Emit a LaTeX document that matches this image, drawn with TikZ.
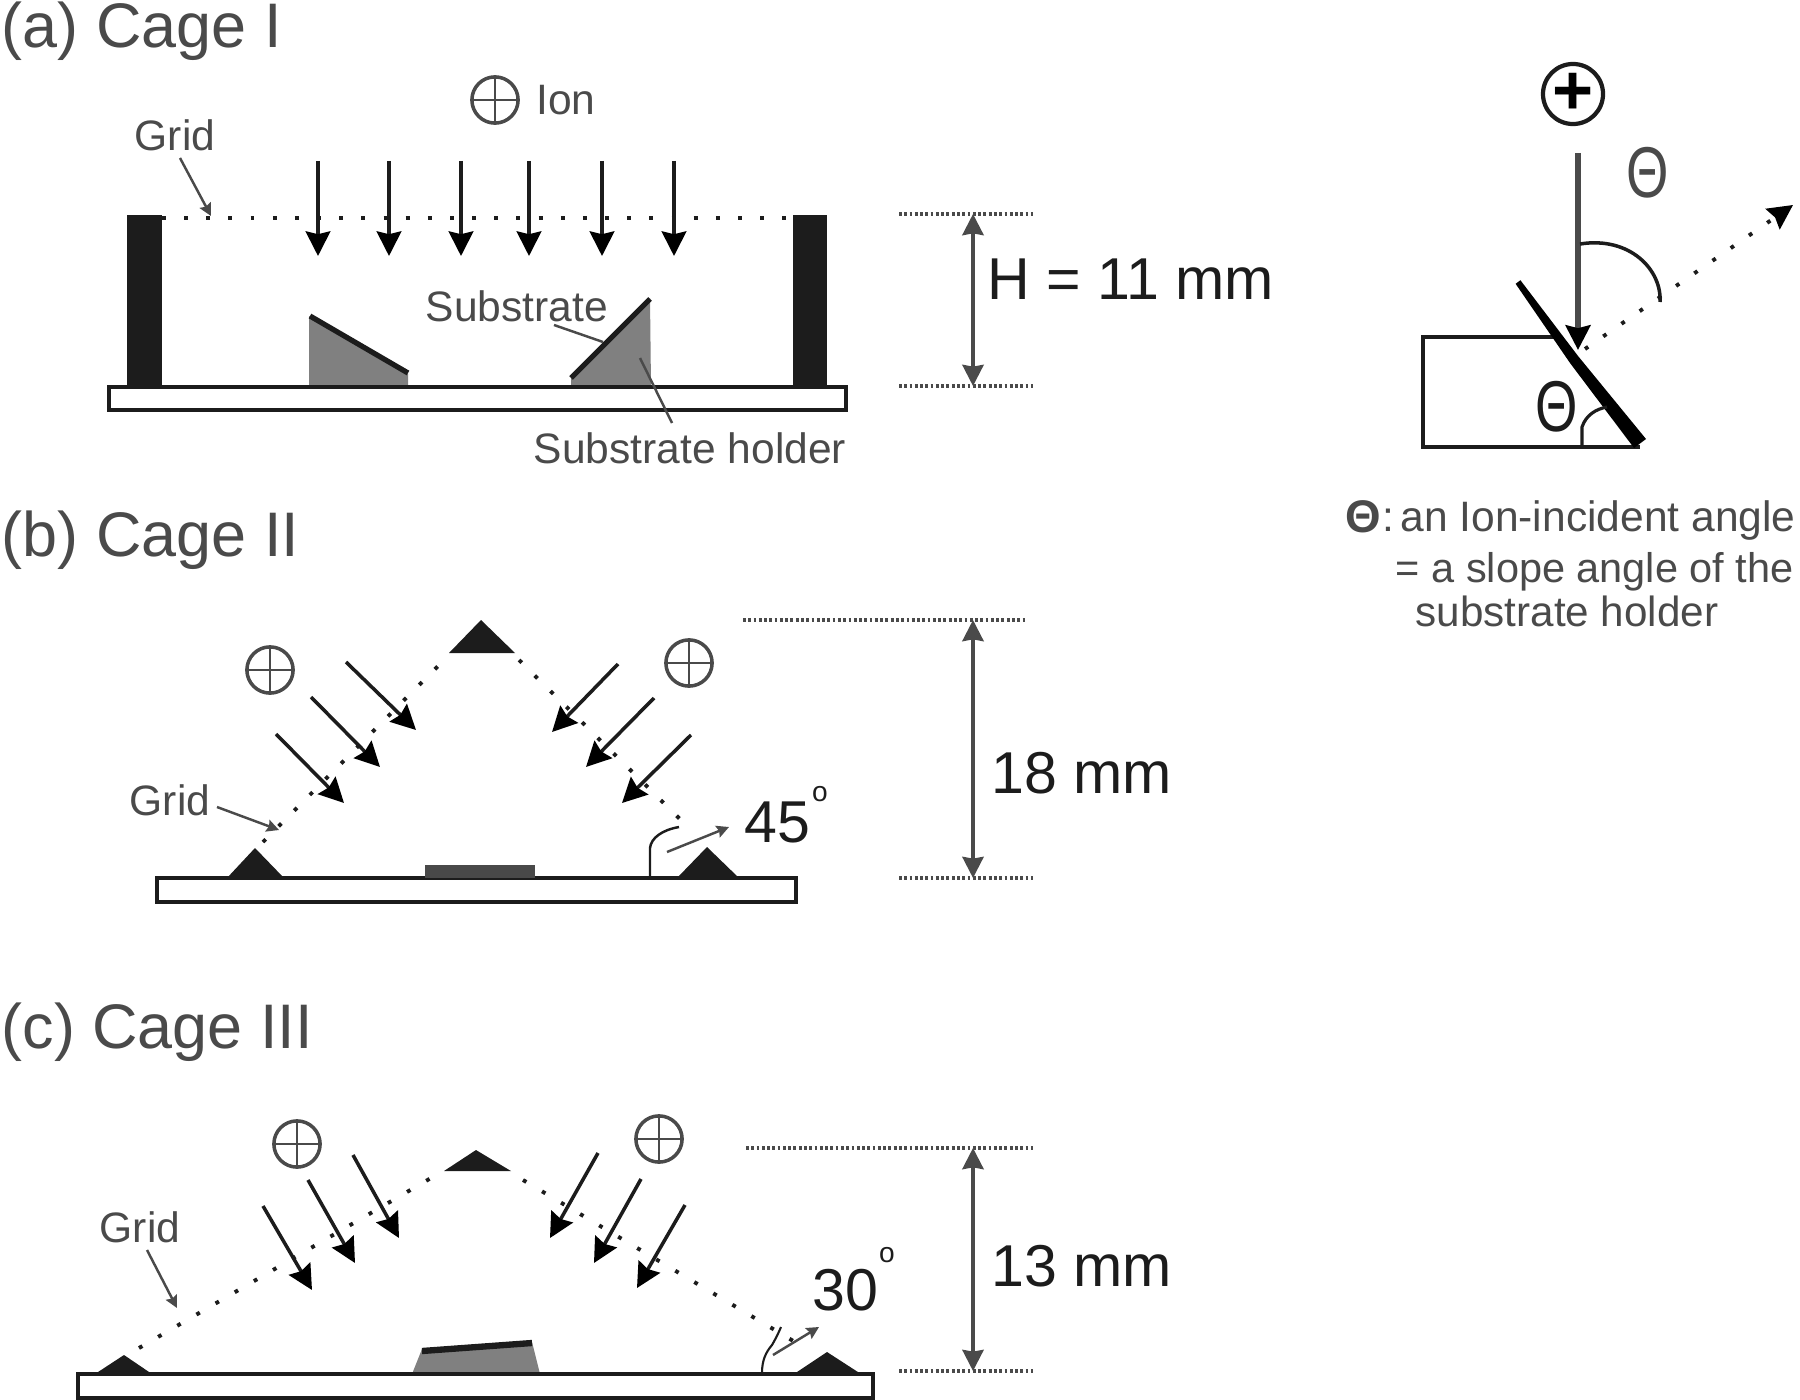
\documentclass[tikz,border=0pt]{standalone}
\usepackage{xcolor}
\usepackage{fontspec}
\setmainfont{Liberation Sans}
\usetikzlibrary{arrows.meta}
\definecolor{inkdark}{HTML}{1c1c1c}
\definecolor{inkgrey}{HTML}{4a4a4a}
\definecolor{holdergrey}{HTML}{808080}
\tikzset{
	titletext/.style={anchor=base west,inner sep=0,text=inkgrey,font=\fontsize{17.9}{20}\selectfont},
	sizetext/.style={anchor=west,inner sep=0,text=inkdark,font=\fontsize{16.8}{20}\selectfont},
	smalltext/.style={inner sep=0,text=inkgrey,font=\fontsize{12.1}{14}\selectfont},
	legendtext/.style={anchor=west,inner sep=0,text=inkgrey,font=\fontsize{12}{14}\selectfont},
	degreetext/.style={inner sep=0,text=inkdark,font=\fontsize{8}{9}\selectfont},
	ionmark/.style={circle,draw=inkgrey,line width=1pt,inner sep=0,minimum size=1.32cm*0.35,
		path picture={
			\draw[inkgrey,line width=0.6pt] (path picture bounding box.north) -- (path picture bounding box.south);
			\draw[inkgrey,line width=0.6pt] (path picture bounding box.west) -- (path picture bounding box.east);
		}},
	plate/.style={draw=inkdark,fill=white,line width=1pt},
	dotline/.style={draw=inkdark,line width=1.1pt,dash pattern=on 1.1pt off 5.2pt},
	sizeline/.style={draw=inkgrey,line width=1.1pt,dash pattern=on 0.8pt off 0.7pt},
}

\begin{document}
\begin{tikzpicture}[x=0.01cm,y=-0.01cm]
	\useasboundingbox (0,0) rectangle (1800,1400);

	% panel titles and labels
	\begin{scope}
		\node[titletext] (titleA) at (1,48) {(a) Cage I};
		\node[titletext] (titleB) at (1,556) {(b) Cage II};
		\node[titletext] (titleC) at (1,1048) {(c) Cage III};

		\node[smalltext] (gridA) at (175,135) {Grid};
		\node[smalltext] (gridB) at (170,800) {Grid};
		\node[smalltext] (gridC) at (140,1227) {Grid};
		\node[smalltext] (ionText) at (566,100) {Ion};
		\node[smalltext] (subText) at (517,306) {Substrate};
		\node[smalltext] (holderText) at (690,448) {Substrate holder};

		\node[sizetext] (sizeA) at (987,279) {H = 11 mm};
		\node[sizetext] (sizeB) at (991,773) {18 mm};
		\node[sizetext] (sizeC) at (991,1266) {13 mm};

		\node[sizetext] (angB) at (744,822) {45};
		\node[degreetext] (degB) at (820,794) {o};
		\node[sizetext] (angC) at (812,1290) {30};
		\node[degreetext] (degC) at (887,1255) {o};

		\node[legendtext,font=\fontsize{13}{14}\bfseries\selectfont] (legTheta) at (1345,517) {Θ};
		\node[legendtext,font=\fontsize{12.1}{14}\selectfont] (legA) at (1382,520) {:\hspace{1.7pt}an Ion-incident angle};
		\node[legendtext,font=\fontsize{11.8}{14}\selectfont] (legB) at (1395,572) {= a slope angle of the};
		\node[legendtext] (legC) at (1415,611) {substrate holder};

		\node[inner sep=0,text=inkgrey,font=\fontsize{15.5}{18}\selectfont] (thetaUp) at (1648,173) {\scalebox{1}[1.32]{Θ}};
		\node[inner sep=0,text=inkdark,font=\fontsize{15.5}{18}\selectfont] (thetaIn) at (1557,407) {\scalebox{1}[1.32]{Θ}};
	\end{scope}

	% ion marks
	\begin{scope}
		\node[ionmark] (ionA) at (495,100) {};
		\node[ionmark] (ionBL) at (270,670) {};
		\node[ionmark] (ionBR) at (689,663) {};
		\node[ionmark] (ionCL) at (297,1144) {};
		\node[ionmark] (ionCR) at (659,1139) {};
		\node[circle,draw=inkdark,line width=1.2pt,inner sep=0,minimum size=0.6cm,
			font=\fontsize{20}{20}\bfseries\selectfont,text=black] (ionBig) at (1573,94) {+};
	\end{scope}

	% cage I
	\fill[inkdark] (127,215) rectangle (162,387);
	\fill[inkdark] (793,215) rectangle (827,387);
	\fill[holdergrey] (309,316) -- (309,387) -- (408,387) -- (408,374) -- cycle;
	\fill[holdergrey] (650,298) -- (571,378) -- (571,387) -- (651,387) -- cycle;
	\draw[plate] (109,387) rectangle (846,410);
	\draw[inkdark,line width=1.5pt] (310,316) -- (408,373);
	\draw[inkdark,line width=1.5pt] (650,299) -- (571,378);

	% cage II
	\fill[inkdark] (481,620) -- (449,653) -- (515,653) -- cycle;
	\fill[inkdark] (255,848) -- (227,878) -- (284,878) -- cycle;
	\fill[inkdark] (707,847) -- (677,878) -- (739,878) -- cycle;
	\draw[plate] (157,878) rectangle (796,902);
	\fill[inkdark!80] (425,865) rectangle (535,878);

	% cage III
	\fill[inkdark] (476,1150) -- (444,1171) -- (511,1171) -- cycle;
	\fill[inkdark] (124,1355) -- (95,1374) -- (152,1374) -- cycle;
	\fill[inkdark] (827,1352) -- (794,1374) -- (861,1374) -- cycle;
	\fill[holdergrey] (412,1374) -- (422,1349) -- (532,1342) -- (540,1374) -- cycle;
	\draw[plate] (78,1374) rectangle (873,1398);
	\draw[inkdark,line width=1.8pt] (422,1351) -- (532,1343);

	% incidence sketch
	\draw[inkdark,line width=1pt] (1558,337) -- (1423,337) -- (1423,447) -- (1640,447);
	\fill[black] (1520.4,280.2) -- (1578,356) -- (1646,439) -- (1634,448) -- (1570,363) -- (1515.6,283.8) -- cycle;

	% free ends of the connectors
	\begin{scope}
		\coordinate (gridAa) at (180,158);
		\coordinate (gridAb) at (211,216);
		\coordinate (gridBa) at (217,807);
		\coordinate (gridBb) at (279,830);
		\coordinate (gridCa) at (147,1250);
		\coordinate (gridCb) at (177,1308);
		\coordinate (subA) at (554,325);
		\coordinate (subB) at (603,342);
		\coordinate (holdA) at (640,358);
		\coordinate (holdB) at (672,423);

		\coordinate (dotAa) at (162,218);
		\coordinate (dotAb) at (793,218);
		\coordinate (dotBa) at (263,842);
		\coordinate (dotBb) at (442,662);
		\coordinate (dotBc) at (519,660);
		\coordinate (dotBd) at (686,825);
		\coordinate (dotCa) at (139,1348);
		\coordinate (dotCb) at (431,1178);
		\coordinate (dotCc) at (523,1180);
		\coordinate (dotCd) at (800,1345);

		\coordinate (sizeAa) at (899,214);
		\coordinate (sizeAb) at (1033,214);
		\coordinate (sizeAc) at (899,386);
		\coordinate (sizeAd) at (1033,386);
		\coordinate (sizeBa) at (743,620);
		\coordinate (sizeBb) at (1025,620);
		\coordinate (sizeBc) at (899,878);
		\coordinate (sizeBd) at (1033,878);
		\coordinate (sizeCa) at (746,1148);
		\coordinate (sizeCb) at (1033,1148);
		\coordinate (sizeCc) at (899,1371);
		\coordinate (sizeCd) at (1033,1371);
		\coordinate (spanAa) at (973,214);
		\coordinate (spanAb) at (973,386);
		\coordinate (spanBa) at (973,620);
		\coordinate (spanBb) at (973,878);
		\coordinate (spanCa) at (973,1148);
		\coordinate (spanCb) at (973,1371);

		\coordinate (inA1) at (318,161);
		\coordinate (outA1) at (318,256);
		\coordinate (inA2) at (389,161);
		\coordinate (outA2) at (389,256);
		\coordinate (inA3) at (461,161);
		\coordinate (outA3) at (461,256);
		\coordinate (inA4) at (529,161);
		\coordinate (outA4) at (529,256);
		\coordinate (inA5) at (602,161);
		\coordinate (outA5) at (602,256);
		\coordinate (inA6) at (674,161);
		\coordinate (outA6) at (674,256);

		\coordinate (inB1) at (346,662);
		\coordinate (outB1) at (416,730);
		\coordinate (inB2) at (311,697);
		\coordinate (outB2) at (380,767);
		\coordinate (inB3) at (276,734);
		\coordinate (outB3) at (344,803);
		\coordinate (inB4) at (618,664);
		\coordinate (outB4) at (552,732);
		\coordinate (inB5) at (654,698);
		\coordinate (outB5) at (586,767);
		\coordinate (inB6) at (691,735);
		\coordinate (outB6) at (622,803);

		\coordinate (inC1) at (353,1155);
		\coordinate (outC1) at (399,1238);
		\coordinate (inC2) at (308,1180);
		\coordinate (outC2) at (355,1263);
		\coordinate (inC3) at (263,1206);
		\coordinate (outC3) at (312,1290);
		\coordinate (inC4) at (598,1153);
		\coordinate (outC4) at (550,1238);
		\coordinate (inC5) at (641,1179);
		\coordinate (outC5) at (594,1263);
		\coordinate (inC6) at (685,1205);
		\coordinate (outC6) at (637,1288);

		\coordinate (angBa) at (667,852);
		\coordinate (angBb) at (729,827);
		\coordinate (angCa) at (773,1355);
		\coordinate (angCb) at (819,1327);

		\coordinate (beamA) at (1578,153);
		\coordinate (beamB) at (1578,350);
		\coordinate (backA) at (1585,349);
		\coordinate (backB) at (1793,205);
	\end{scope}

	% grid lines
	\begin{scope}[every edge/.style={dotline}]
		\path (dotAa) edge (dotAb);
		\path (dotBa) edge (dotBb);
		\path (dotBc) edge (dotBd);
		\path (dotCa) edge (dotCb);
		\path (dotCc) edge (dotCd);
		\path (sizeAa) edge[sizeline] (sizeAb);
		\path (sizeAc) edge[sizeline] (sizeAd);
		\path (sizeBa) edge[sizeline] (sizeBb);
		\path (sizeBc) edge[sizeline] (sizeBd);
		\path (sizeCa) edge[sizeline] (sizeCb);
		\path (sizeCc) edge[sizeline] (sizeCd);
	\end{scope}

	% pointers from the labels
	\begin{scope}[>={Stealth[length=3.5pt,width=3.5pt,inset=0.5pt]},
			every edge/.style={draw=inkgrey,line width=0.7pt}]
		\path [->] (gridAa) edge (gridAb);
		\path [->] (gridBa) edge (gridBb);
		\path [->] (gridCa) edge (gridCb);
		\path [->] (angBa) edge (angBb);
		\path [->] (angCa) edge (angCb);
		\path (subA) edge (subB);
		\path (holdA) edge (holdB);
	\end{scope}

	% size arrows
	\begin{scope}[>={Stealth[length=6pt,width=6pt,inset=0.5pt]},
			every edge/.style={draw=inkgrey,line width=1.1pt}]
		\path [<->] (spanAa) edge (spanAb);
		\path [<->] (spanBa) edge (spanBb);
		\path [<->] (spanCa) edge (spanCb);
	\end{scope}

	% ion arrows
	\begin{scope}[>={Stealth[black,length=7pt,width=7pt,inset=0.8pt]},
			every edge/.style={draw=inkdark,line width=1pt}]
		\path [->] (inA1) edge (outA1);
		\path [->] (inA2) edge (outA2);
		\path [->] (inA3) edge (outA3);
		\path [->] (inA4) edge (outA4);
		\path [->] (inA5) edge (outA5);
		\path [->] (inA6) edge (outA6);
		\path [->] (inB1) edge (outB1);
		\path [->] (inB2) edge (outB2);
		\path [->] (inB3) edge (outB3);
		\path [->] (inB4) edge (outB4);
		\path [->] (inB5) edge (outB5);
		\path [->] (inB6) edge (outB6);
		\path [->] (inC1) edge (outC1);
		\path [->] (inC2) edge (outC2);
		\path [->] (inC3) edge (outC3);
		\path [->] (inC4) edge (outC4);
		\path [->] (inC5) edge (outC5);
		\path [->] (inC6) edge (outC6);
		\path [->] (beamA) edge[draw=inkgrey,line width=1.8pt] (beamB);
		\path [->] (backA) edge[dotline] (backB);
	\end{scope}

	% angle arcs
	\draw[inkdark,line width=0.7pt] (650,877) -- (650,848) .. controls (651,838) and (662,830) .. (679,827);
	\draw[inkdark,line width=0.6pt] (762,1373) .. controls (762,1360) and (766,1352) .. (772,1345) .. controls (776,1338) and (778,1334) .. (781,1327);
	\draw[inkdark,line width=1pt] (1580,244) .. controls (1630,236) and (1662,270) .. (1660,302);
	\draw[inkdark,line width=0.9pt] (1582,447) -- (1582,427) .. controls (1586,415) and (1596,409) .. (1607,407);
\end{tikzpicture}
\end{document}
